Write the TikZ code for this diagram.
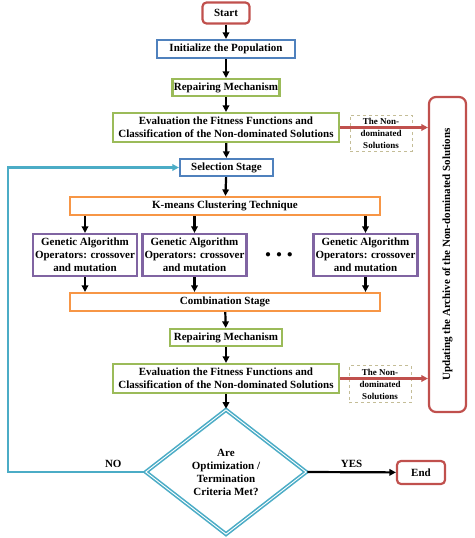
\documentclass[tikz,border=0pt]{standalone}
\usepackage{fontspec}
\setmainfont{Liberation Serif}
\usetikzlibrary{shapes.geometric,arrows.meta}

\definecolor{cred}{RGB}{192,80,77}
\definecolor{cblue}{RGB}{79,129,189}
\definecolor{cgreen}{RGB}{155,187,89}
\definecolor{corange}{RGB}{247,150,70}
\definecolor{cpurple}{RGB}{128,100,162}
\definecolor{ccyan}{RGB}{75,172,198}
\definecolor{ctan}{RGB}{196,189,151}

\tikzstyle{box}=[draw, line width=2.2pt, font=\bfseries\fontsize{11}{13}\selectfont, align=center, inner sep=1pt]
\tikzstyle{term}=[box, draw=cred, rounded corners=4pt]
\tikzstyle{note}=[draw=ctan, dashed, line width=1pt, font=\bfseries\fontsize{9}{12}\selectfont, align=center, inner sep=1pt]
\tikzstyle{flow}=[-{Triangle[length=6.5pt,width=6.5pt]}, line width=2.2pt]
\tikzstyle{label}=[font=\bfseries\fontsize{11}{13}\selectfont]

\begin{document}
\begin{tikzpicture}[x=1pt,y=-1pt]
            \useasboundingbox (0,0) rectangle (474,538);
            \node[term, minimum width=47pt, minimum height=21pt] at (226,13) (start) {Start};
            \node[box, draw=cblue, minimum width=138pt, minimum height=18pt] at (226,49) (init) {Initialize the Population};
            \node[box, draw=cgreen, minimum width=107pt, minimum height=17pt] at (226,87.5) (rep1) {Repairing Mechanism};
            \node[box, draw=cgreen, minimum width=226pt, minimum height=29pt] at (226,127.5) (eval1) {Evaluation the Fitness Functions and\\Classification of the Non-dominated Solutions};
            \node[note, minimum width=62pt, minimum height=36pt] at (381,133) (nd1) {The Non-\\dominated\\Solutions};
            \node[term, rotate=90, rounded corners=7pt, minimum width=315pt, minimum height=37pt] at (447.5,254.5) (arch) {Updating the Archive of the Non-dominated Solutions};
            \node[box, draw=cblue, minimum width=93pt, minimum height=17pt] at (226.5,167.5) (sel) {Selection Stage};
            \node[box, draw=corange, minimum width=310pt, minimum height=18pt] at (225,206) (kmeans) {K-means Clustering Technique};
            \node[box, draw=cpurple, minimum width=104pt, minimum height=42pt] at (85,255) (ga1) {Genetic Algorithm\\Operators: crossover\\and mutation};
            \node[box, draw=cpurple, minimum width=104pt, minimum height=42pt] at (194.5,255) (ga2) {Genetic Algorithm\\Operators: crossover\\and mutation};
            \node[label] at (279,255) (dots) {$\bullet\;\bullet\;\bullet$};
            \node[box, draw=cpurple, minimum width=104pt, minimum height=42pt] at (365.5,255) (ga3) {Genetic Algorithm\\Operators: crossover\\and mutation};
            \node[box, draw=corange, minimum width=310pt, minimum height=18pt] at (225,302) (comb) {Combination Stage};
            \node[box, draw=cgreen, minimum width=112pt, minimum height=17pt] at (226,337.5) (rep2) {Repairing Mechanism};
            \node[box, draw=cgreen, minimum width=226pt, minimum height=29pt] at (226,378.5) (eval2) {Evaluation the Fitness Functions and\\Classification of the Non-dominated Solutions};
            \node[note, minimum width=62pt, minimum height=37pt] at (380,384) (nd2) {The Non-\\dominated\\Solutions};
            \node[box, diamond, draw=ccyan, line width=1.6pt, double=white, double distance=0.9pt, minimum width=161pt, minimum height=125pt, inner sep=0pt] at (226,472) (dec) {Are\\Optimization /\\Termination\\Criteria Met?};
            \node[term, minimum width=48pt, minimum height=23pt] at (421,472.5) (end) {End};
            \coordinate (corner) at (8,472);

            \draw[flow] (start) -- (init);
            \draw[flow] (init) -- (rep1);
            \draw[flow] (rep1) -- (eval1);
            \draw[flow] (eval1) -- (sel);
            \draw[flow] (sel) -- (kmeans);
            \draw[flow] (kmeans.south -| ga1.north) -- (ga1.north);
            \draw[flow] (kmeans.south -| ga2.north) -- (ga2.north);
            \draw[flow] (kmeans.south -| ga3.north) -- (ga3.north);
            \draw[flow] (ga1.south) -- (comb.north -| ga1.south);
            \draw[flow] (ga2.south) -- (comb.north -| ga2.south);
            \draw[flow] (ga3.south) -- (comb.north -| ga3.south);
            \draw[flow] (comb) -- (rep2);
            \draw[flow] (rep2) -- (eval2);
            \draw[flow] (eval2) -- (dec);
            \draw[flow, cred] (eval1.east) -- (eval1.east -| arch.north);
            \draw[flow, cred] (eval2.east) -- (eval2.east -| arch.north);
            \draw[flow] (dec.east) -- node[label, above] {YES} (end);
            \draw[flow, ccyan] (dec.west) -- node[label, above, black, pos=0.23] {NO} (corner) |- (sel.west);
        \end{tikzpicture}
\end{document}
